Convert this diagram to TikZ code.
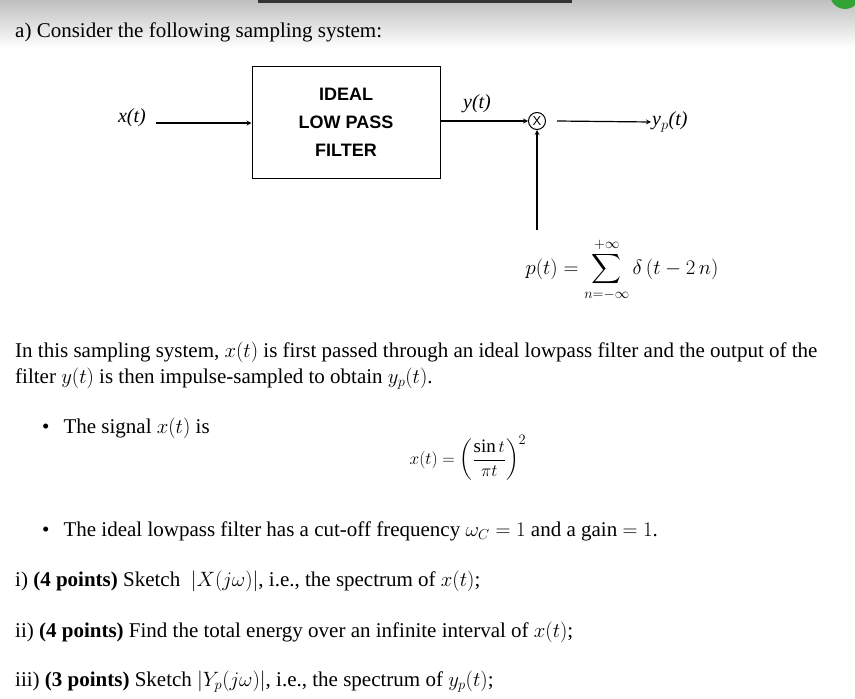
\documentclass[tikz,border=0pt]{standalone}
\usepackage{amsmath}
\usepackage{fontspec}
\setmainfont{Liberation Serif}
\newfontfamily\sansb{Liberation Sans}
\begin{document}
\begin{tikzpicture}[x=1pt,y=-1pt,
  txt/.style={anchor=base west,inner sep=0,font=\fontsize{21}{24}\selectfont},
  arr/.style={->,>=stealth,line width=1.2pt},
  lbl/.style={font=\fontsize{20}{24}\selectfont\itshape,inner sep=1pt}]
\useasboundingbox (0,0) rectangle (855,699);
\shade[top color=black!25,bottom color=white] (0,0) rectangle (855,48);
\fill[black!80] (258,0) rectangle (572,3);
\fill[green!55!black!80] (845,-6) circle (15);
\node[txt] (title) at (15,37) {a) Consider the following sampling system:};
\node[draw,line width=1pt,minimum width=188,minimum height=112,align=center,font=\sansb\bfseries\fontsize{18}{28}\selectfont] (lpf) at (346,122) {IDEAL\\LOW PASS\\FILTER};
\node[lbl,anchor=east] (x) at (147,118) {x(t)};
\coordinate (xs) at (156,123);
\draw[arr] (xs) -- (lpf.west|-xs);
\node[draw,circle,line width=1pt,inner sep=0,minimum size=17,font=\sansb\fontsize{13}{14}\selectfont] (m) at (537,121) {X};
\draw[arr] (lpf.east|-m) -- (m.west);
\node[lbl] (y) at (477,104) {y(t)};
\coordinate (ys) at (557,121);
\node[lbl,anchor=west] (yp) at (651,122) {y$_p$(t)};
\draw[arr] (ys) -- (yp.west);
\coordinate (ps) at (537,230);
\draw[arr] (ps) -- (m.south);
\node[font=\fontsize{21}{24}\selectfont] (p) at (622,270) {$p(t)=\displaystyle\sum_{n=-\infty}^{+\infty}\delta\,(t-2\,n)$};
\node[txt] (para1) at (15,357) {In this sampling system, $x(t)$ is first passed through an ideal lowpass filter and the output of the};
\node[txt] (para2) at (15,383) {filter $y(t)$ is then impulse-sampled to obtain $y_p(t)$.};
\node[txt] (b1) at (42,433) {\textbullet\hspace{14pt}The signal $x(t)$ is};
\node[font=\fontsize{19}{22}\selectfont] (eq) at (468,458) {$x(t)=\left(\dfrac{\sin t}{\pi t}\right)^{2}$};
\node[txt] (b2) at (42,536) {\textbullet\hspace{14pt}The ideal lowpass filter has a cut-off frequency $\omega_C=1$ and a gain $=1$.};
\node[txt] (q1) at (15,586) {i) \textbf{(4 points)} Sketch \ $|X(j\omega)|$, i.e., the spectrum of $x(t)$;};
\node[txt] (q2) at (15,637) {ii) \textbf{(4 points)} Find the total energy over an infinite interval of $x(t)$;};
\node[txt] (q3) at (15,686) {iii) \textbf{(3 points)} Sketch $|Y_p(j\omega)|$, i.e., the spectrum of $y_p(t)$;};
\end{tikzpicture}
\end{document}
